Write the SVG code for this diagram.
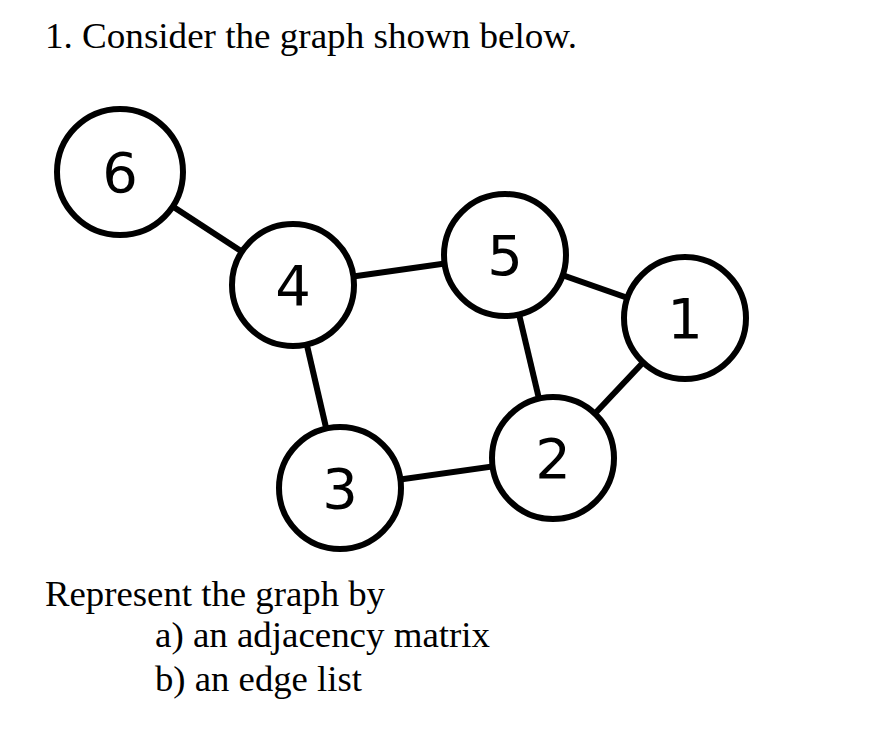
<svg xmlns="http://www.w3.org/2000/svg" width="894" height="732" viewBox="0 0 894 732">
<style>
.n circle{fill:#fff;stroke:#000;stroke-width:6}
.n text{font-family:"DejaVu Sans",sans-serif;font-size:56px;text-anchor:middle;fill:#000}
.e line{stroke:#000;stroke-width:6}
.t{font-family:"Liberation Serif",serif;font-size:36px;fill:#000}
</style>
<rect width="894" height="732" fill="#fff"/>
<text class="t" x="45" y="48" textLength="532" lengthAdjust="spacingAndGlyphs">1. Consider the graph shown below.</text>
<g class="e" id="edges">
<line x1="120" y1="172" x2="293" y2="285"/>
<line x1="293" y1="285" x2="505" y2="255"/>
<line x1="293" y1="285" x2="340" y2="488"/>
<line x1="505" y1="255" x2="685" y2="318"/>
<line x1="505" y1="255" x2="553" y2="458"/>
<line x1="685" y1="318" x2="553" y2="458"/>
<line x1="340" y1="488" x2="553" y2="458"/>
</g>
<g class="n" id="n6"><circle cx="120" cy="172" r="63"/><text x="120" y="192">6</text></g>
<g class="n" id="n4"><circle cx="293" cy="285" r="61"/><text x="293" y="305">4</text></g>
<g class="n" id="n5"><circle cx="505" cy="255" r="61"/><text x="505" y="275">5</text></g>
<g class="n" id="n1"><circle cx="685" cy="318" r="61"/><text x="685" y="338">1</text></g>
<g class="n" id="n2"><circle cx="553" cy="458" r="61"/><text x="553" y="478">2</text></g>
<g class="n" id="n3"><circle cx="340" cy="488" r="61"/><text x="340" y="508">3</text></g>
<text class="t" x="45" y="606" textLength="340" lengthAdjust="spacingAndGlyphs">Represent the graph by</text>
<text class="t" x="155" y="647" textLength="335" lengthAdjust="spacingAndGlyphs">a) an adjacency matrix</text>
<text class="t" x="155" y="691" textLength="207" lengthAdjust="spacingAndGlyphs">b) an edge list</text>
</svg>
